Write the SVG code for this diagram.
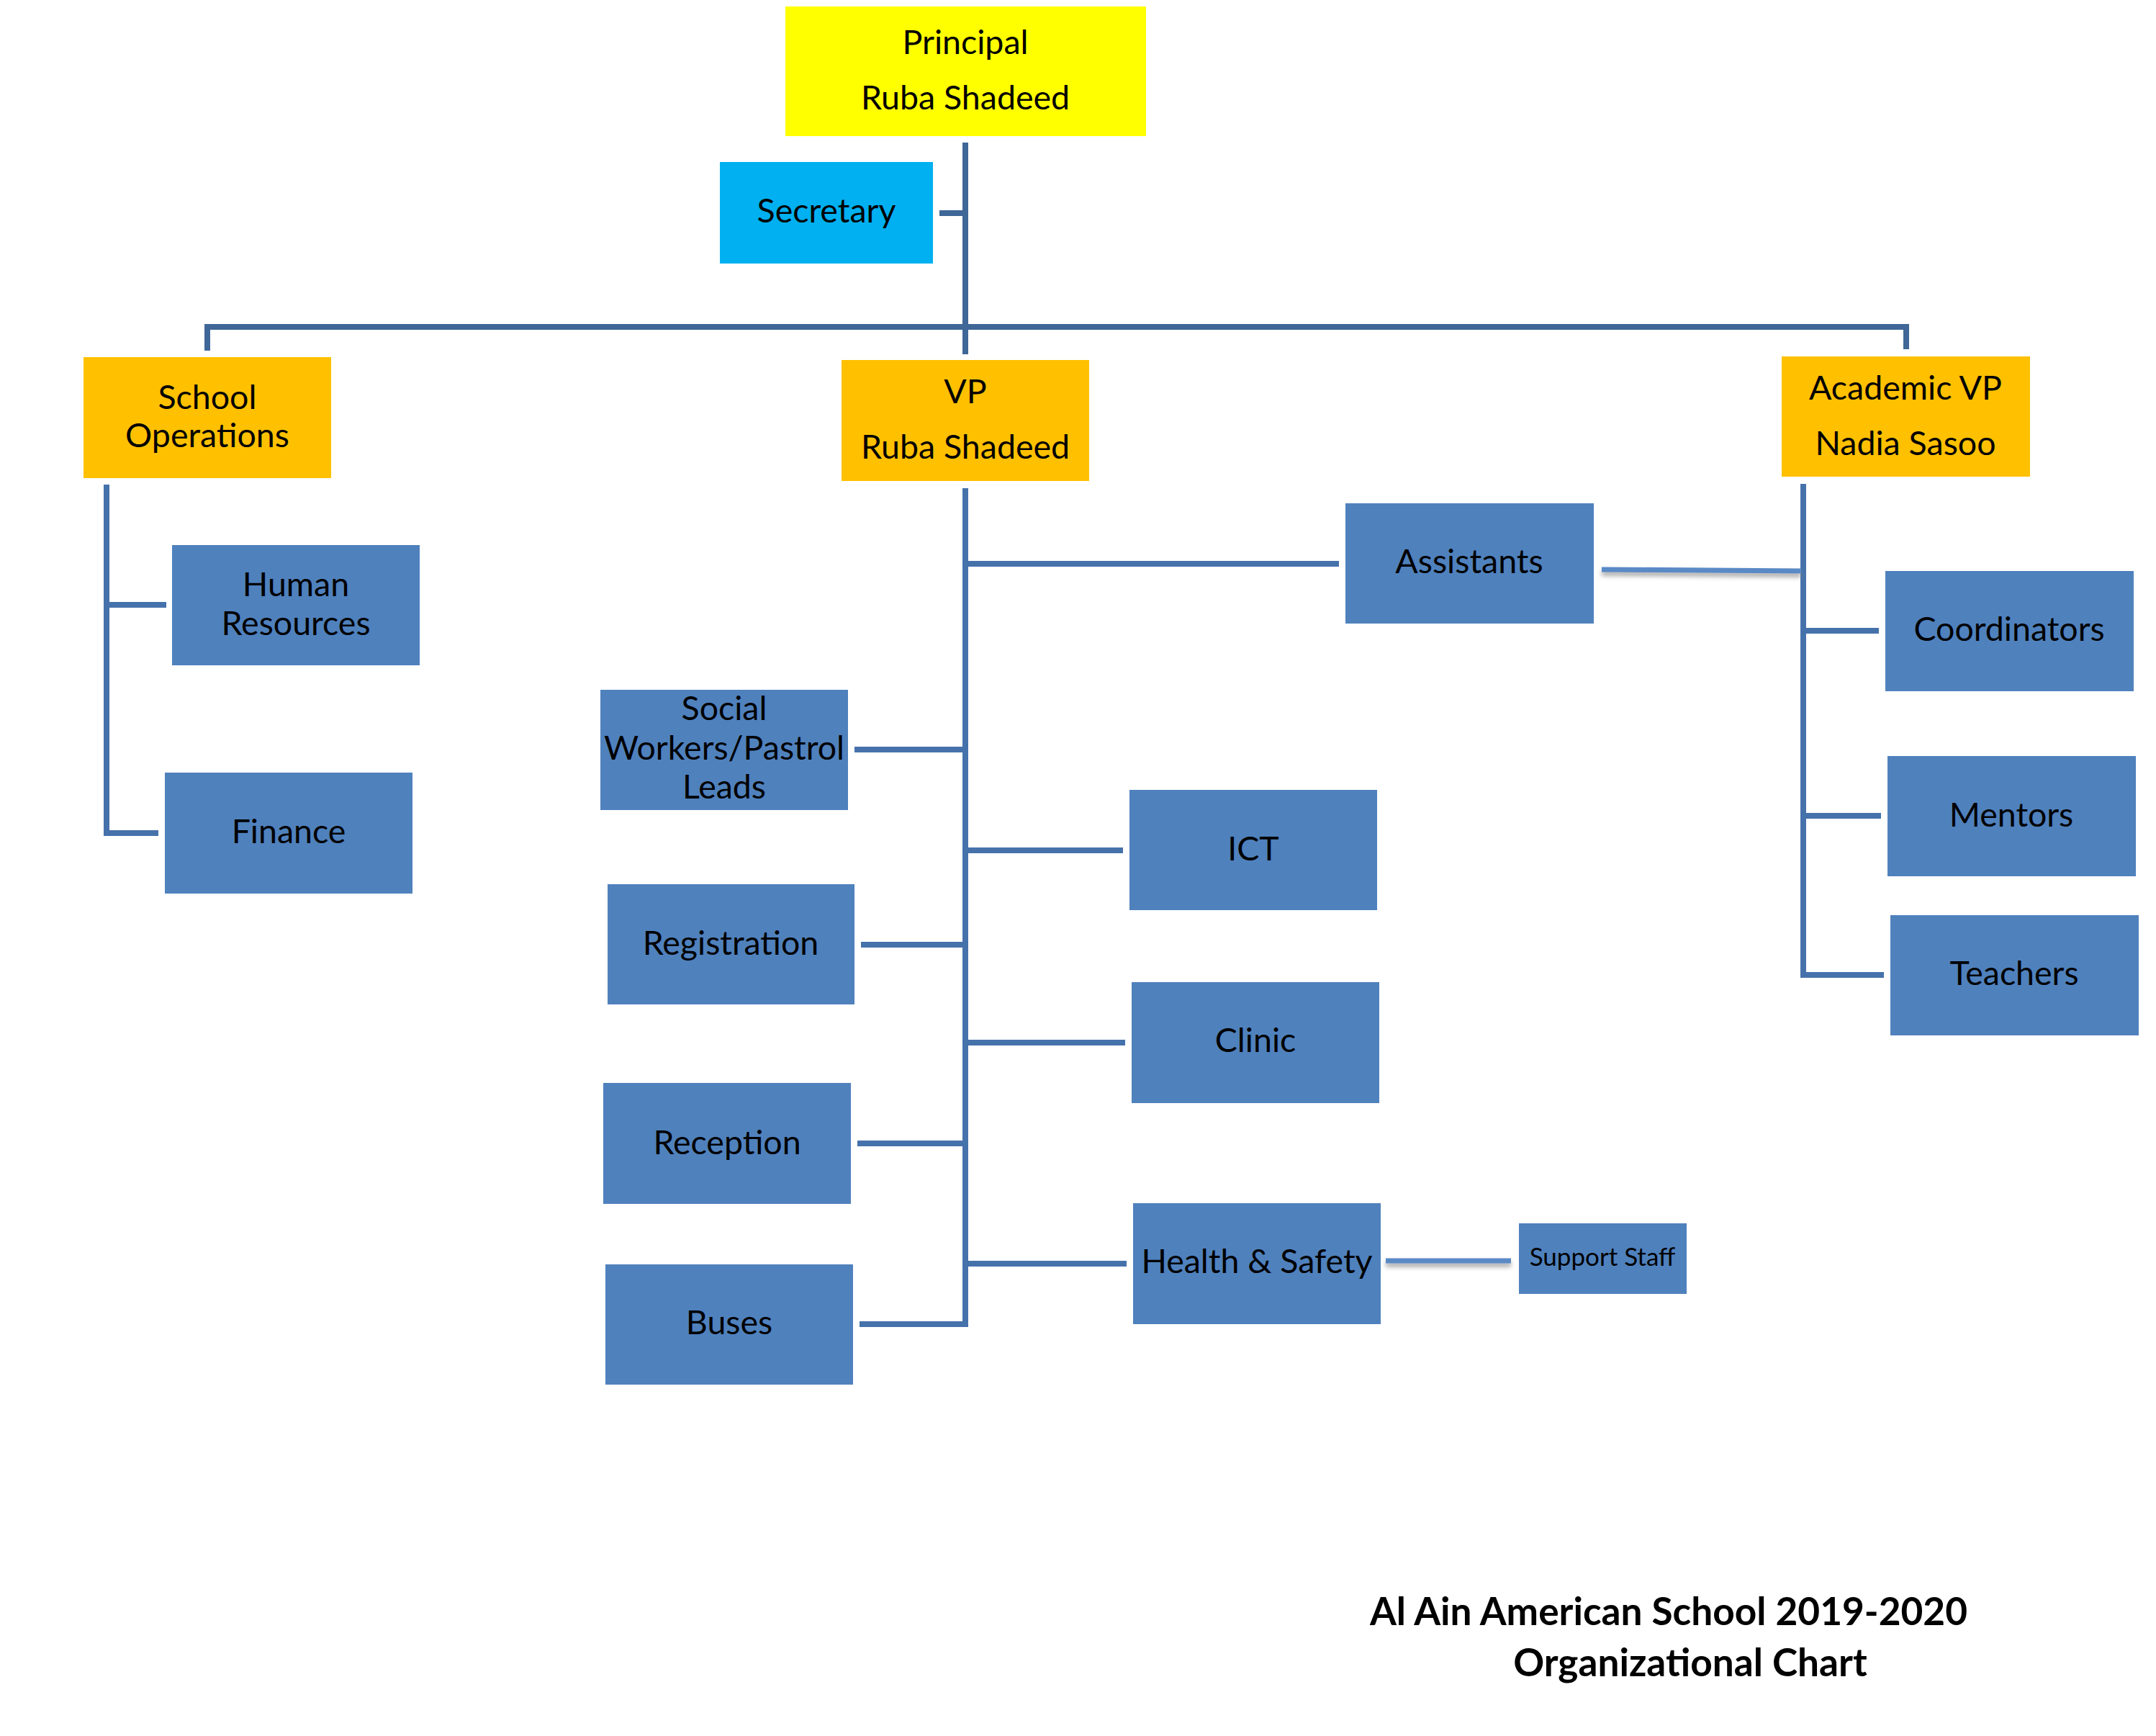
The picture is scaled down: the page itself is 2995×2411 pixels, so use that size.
<svg xmlns="http://www.w3.org/2000/svg" width="2995" height="2411" viewBox="0 0 2995 2411">
<style>
  .t { font-family: Lato, "Liberation Sans", sans-serif; font-size: 46.5px; fill: #000; text-anchor: middle; }
  .small { font-size: 35px; }
  .title { font-family: Lato, "Liberation Sans", sans-serif; font-size: 53.2px; font-weight: bold; fill: #000; text-anchor: middle; }
  .blue { fill: #4F81BD; }
  .gold { fill: #FFC000; }
  .ln { fill: none; stroke: #4672AB; stroke-width: 8; stroke-linejoin: miter; stroke-linecap: butt; }
  .dk { stroke: #3F6797; }
  .sh { fill: none; stroke: #5A8AC6; stroke-width: 7; filter: url(#shadow); }
</style>
<defs>
  <filter id="shadow" filterUnits="userSpaceOnUse" x="0" y="0" width="2995" height="2411">
    <feDropShadow dx="0" dy="5" stdDeviation="3" flood-color="#808080" flood-opacity="0.7"/>
  </filter>
</defs>
<rect width="2995" height="2411" fill="#FFFFFF"/>

<g id="connectors">
  <line class="ln dk" x1="1341" y1="198" x2="1341" y2="492"/>
  <line class="ln dk" x1="1305" y1="296" x2="1341" y2="296"/>
  <polyline class="ln dk" points="288,487 288,454 2648,454 2648,485"/>
  <polyline class="ln" points="148,673 148,1157 220,1157"/>
  <line class="ln" x1="148" y1="840" x2="231" y2="840"/>
  <polyline class="ln" points="1341,678 1341,1839 1194,1839"/>
  <line class="ln" x1="1341" y1="783" x2="1860" y2="783"/>
  <line class="ln" x1="1187" y1="1041" x2="1341" y2="1041"/>
  <line class="ln" x1="1341" y1="1181" x2="1560" y2="1181"/>
  <line class="ln" x1="1196" y1="1312" x2="1341" y2="1312"/>
  <line class="ln" x1="1341" y1="1448" x2="1563" y2="1448"/>
  <line class="ln" x1="1191" y1="1588" x2="1341" y2="1588"/>
  <line class="ln" x1="1341" y1="1755" x2="1565" y2="1755"/>
  <polyline class="ln" points="2505,672 2505,1354 2617,1354"/>
  <line class="ln" x1="2505" y1="876" x2="2610" y2="876"/>
  <line class="ln" x1="2505" y1="1133" x2="2613" y2="1133"/>
  <line class="sh" x1="2225" y1="791" x2="2502" y2="793"/>
  <line class="sh" x1="1925" y1="1751" x2="2099" y2="1751"/>
</g>

<g id="principal">
  <rect x="1091" y="9" width="501" height="180" fill="#FFFF00"/>
  <text class="t" x="1341" y="75">Principal</text>
  <text class="t" x="1341" y="152">Ruba Shadeed</text>
</g>
<g id="secretary">
  <rect x="1000" y="225" width="296" height="141" fill="#00B0F0"/>
  <text class="t" x="1148" y="309">Secretary</text>
</g>
<g id="school-operations">
  <rect class="gold" x="116" y="496" width="344" height="168"/>
  <text class="t" x="288" y="568">School</text>
  <text class="t" x="288" y="621">Operations</text>
</g>
<g id="vp">
  <rect class="gold" x="1169" y="500" width="344" height="168"/>
  <text class="t" x="1341" y="560">VP</text>
  <text class="t" x="1341" y="637">Ruba Shadeed</text>
</g>
<g id="academic-vp">
  <rect class="gold" x="2475" y="495" width="345" height="167"/>
  <text class="t" x="2647" y="555">Academic VP</text>
  <text class="t" x="2647" y="632">Nadia Sasoo</text>
</g>
<g id="human-resources">
  <rect class="blue" x="239" y="757" width="344" height="167"/>
  <text class="t" x="411" y="828">Human</text>
  <text class="t" x="411" y="882">Resources</text>
</g>
<g id="finance">
  <rect class="blue" x="229" y="1073" width="344" height="168"/>
  <text class="t" x="401" y="1171">Finance</text>
</g>
<g id="assistants">
  <rect class="blue" x="1869" y="699" width="345" height="167"/>
  <text class="t" x="2041" y="796">Assistants</text>
</g>
<g id="social-workers">
  <rect class="blue" x="834" y="958" width="344" height="167"/>
  <text class="t" x="1006" y="1000">Social</text>
  <text class="t" x="1006" y="1055">Workers/Pastrol</text>
  <text class="t" x="1006" y="1109">Leads</text>
</g>
<g id="ict">
  <rect class="blue" x="1569" y="1097" width="344" height="167"/>
  <text class="t" x="1741" y="1195">ICT</text>
</g>
<g id="registration">
  <rect class="blue" x="844" y="1228" width="343" height="167"/>
  <text class="t" x="1015" y="1326">Registration</text>
</g>
<g id="clinic">
  <rect class="blue" x="1572" y="1364" width="344" height="168"/>
  <text class="t" x="1744" y="1461">Clinic</text>
</g>
<g id="reception">
  <rect class="blue" x="838" y="1504" width="344" height="168"/>
  <text class="t" x="1010" y="1603">Reception</text>
</g>
<g id="health-safety">
  <rect class="blue" x="1574" y="1671" width="344" height="168"/>
  <text class="t" x="1746" y="1768">Health &amp; Safety</text>
</g>
<g id="support-staff">
  <rect class="blue" x="2110" y="1699" width="233" height="98"/>
  <text class="t small" x="2226" y="1758">Support Staff</text>
</g>
<g id="buses">
  <rect class="blue" x="841" y="1756" width="344" height="167"/>
  <text class="t" x="1013" y="1853">Buses</text>
</g>
<g id="coordinators">
  <rect class="blue" x="2619" y="793" width="345" height="167"/>
  <text class="t" x="2791" y="890">Coordinators</text>
</g>
<g id="mentors">
  <rect class="blue" x="2622" y="1050" width="345" height="167"/>
  <text class="t" x="2794" y="1148">Mentors</text>
</g>
<g id="teachers">
  <rect class="blue" x="2626" y="1271" width="345" height="167"/>
  <text class="t" x="2798" y="1368">Teachers</text>
</g>
<g id="title">
  <text class="title" x="2318" y="2257">Al Ain American School 2019-2020</text>
  <text class="title" x="2348" y="2328">Organizational Chart</text>
</g>
</svg>
